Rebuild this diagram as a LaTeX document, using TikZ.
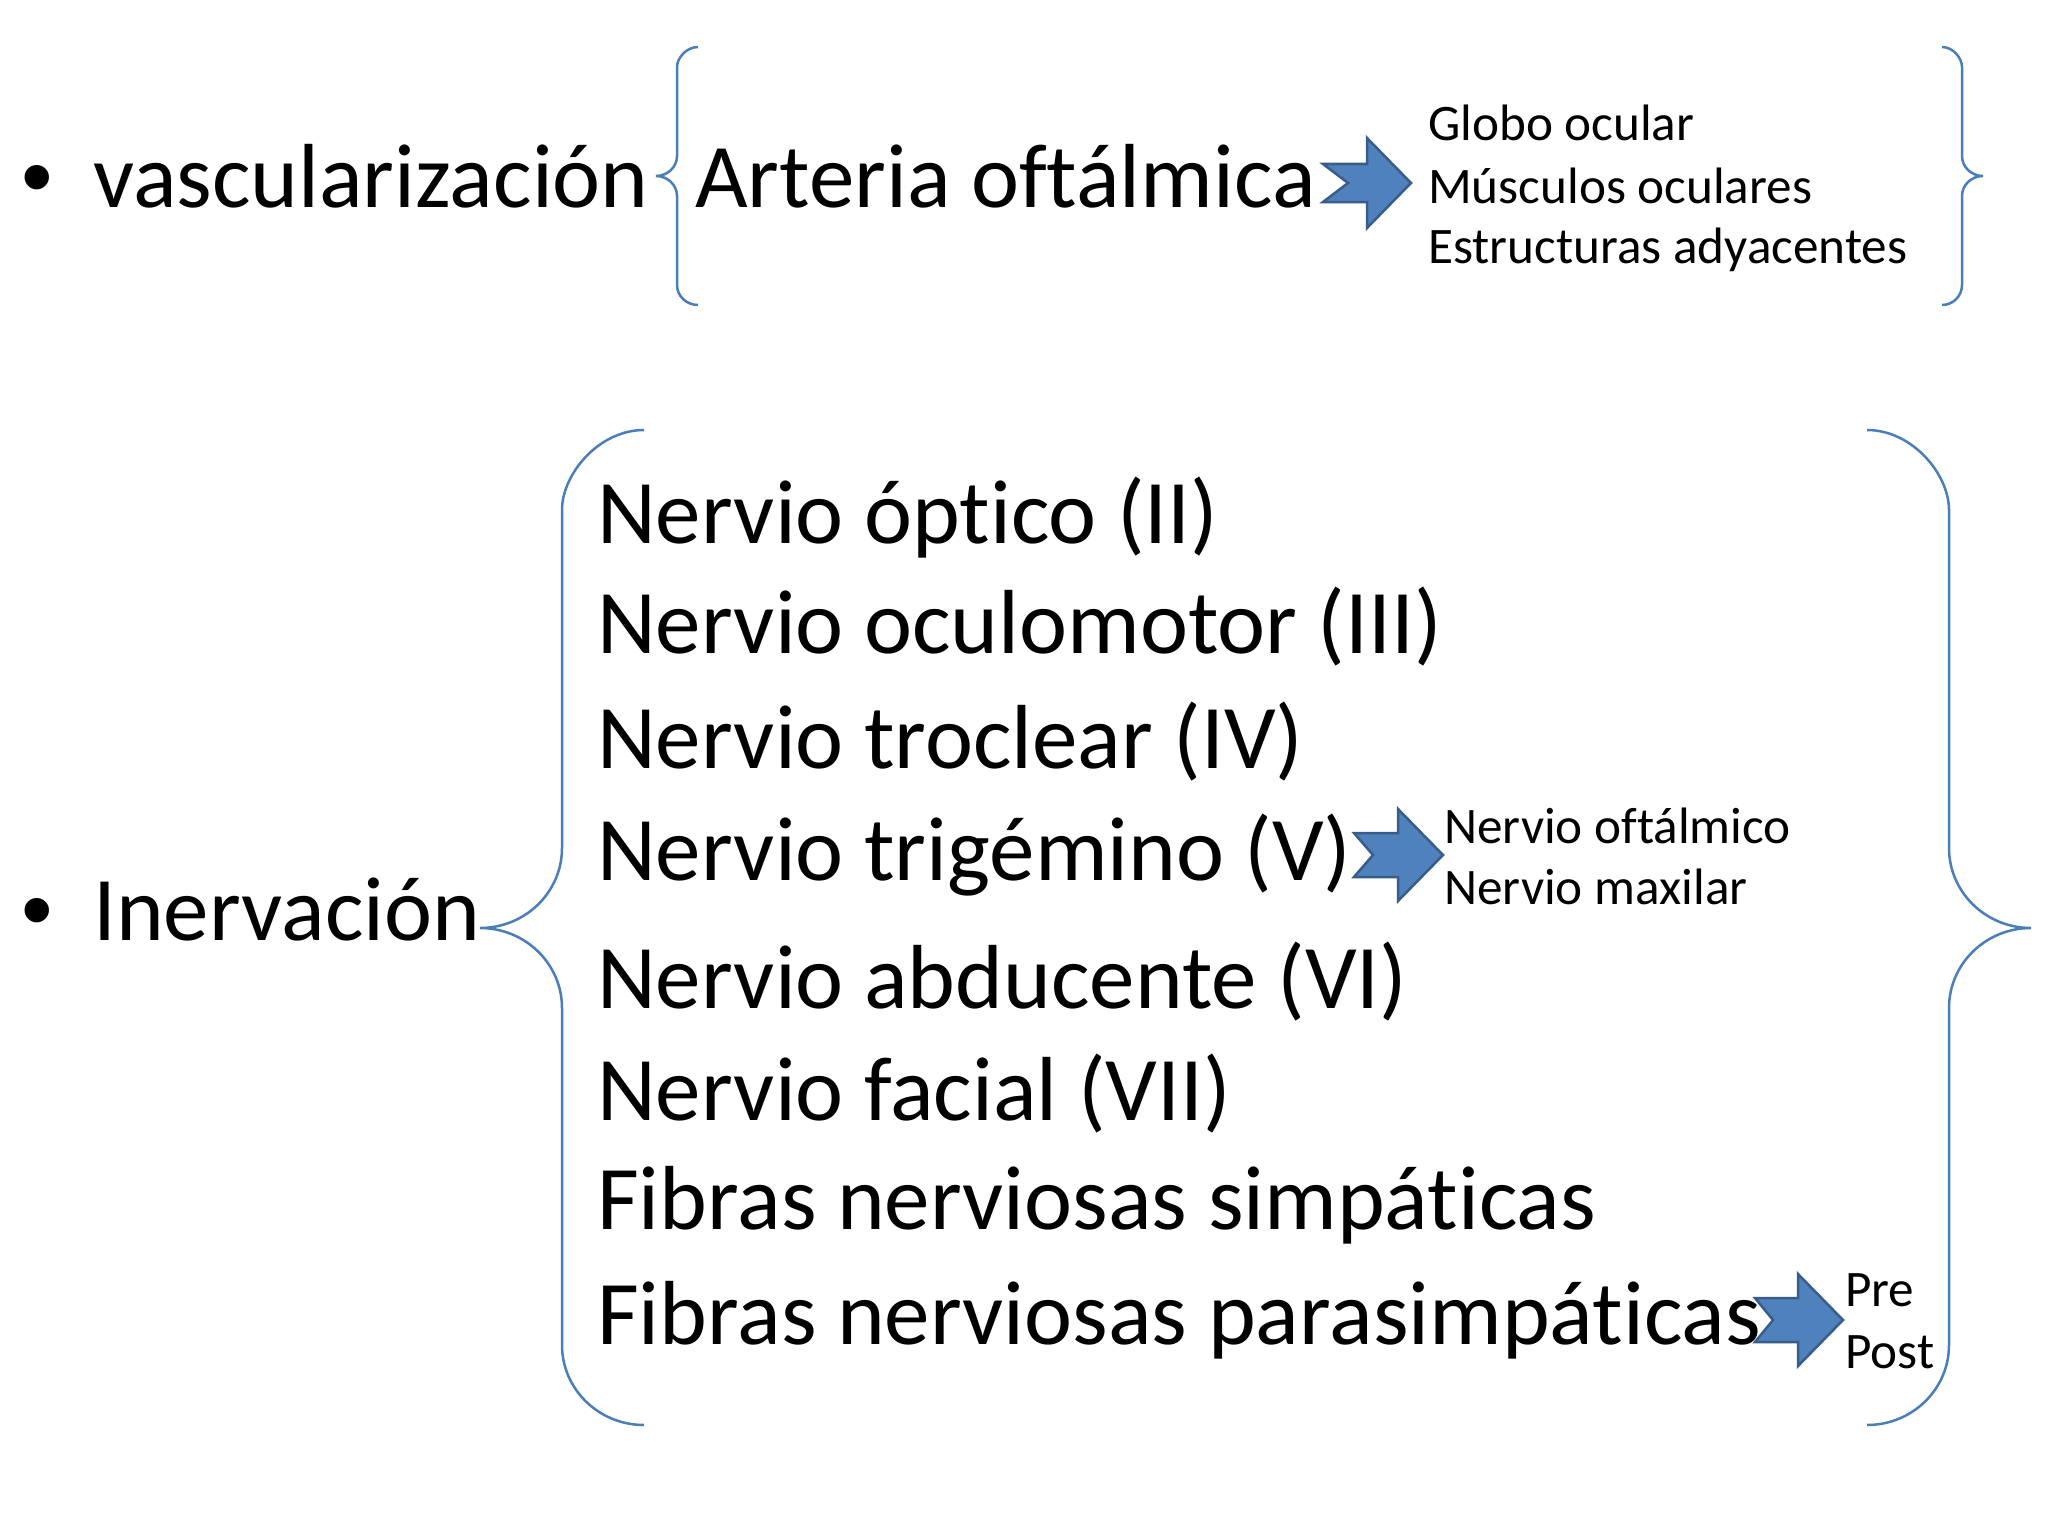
\documentclass[tikz,border=0pt]{standalone}
\usepackage{fontspec}
\setmainfont{Carlito}[Ligatures={NoCommon}]
\newfontfamily\bulletfont{Liberation Sans}
\definecolor{bracecol}{RGB}{74,126,187}
\definecolor{arrowfill}{RGB}{79,129,189}
\definecolor{arrowline}{RGB}{56,93,138}
% #1 end x, #2 vertical x, #3 tip x, #4 top y, #5 tip y, #6 bottom y, #7 curl radius
\newcommand{\curlybrace}[7]{%
 \draw[bracepath] ({#1},{#4}) .. controls ({#1-0.5523*(#1-#2)},{#4}) and ({#2},{#4+0.5523*#7}) .. ({#2},{#4+#7})
  -- ({#2},{#5-#7}) .. controls ({#2},{#5-#7+0.5523*#7}) and ({#3+0.5523*(#2-#3)},{#5}) .. ({#3},{#5})
  .. controls ({#3+0.5523*(#2-#3)},{#5}) and ({#2},{#5+#7-0.5523*#7}) .. ({#2},{#5+#7})
  -- ({#2},{#6-#7}) .. controls ({#2},{#6-#7+0.5523*#7}) and ({#1-0.5523*(#1-#2)},{#6}) .. ({#1},{#6});}
% #1 left x, #2 centre y, #3 notch x, #4 shaft end x, #5 tip x, #6 shaft half height, #7 head half height
\newcommand{\blockarrow}[7]{%
 \draw[notcharrow] ({#1},{#2-#6}) -- ({#4},{#2-#6}) -- ({#4},{#2-#7}) -- ({#5},{#2})
  -- ({#4},{#2+#7}) -- ({#4},{#2+#6}) -- ({#1},{#2+#6}) -- ({#3},{#2}) -- cycle;}
\begin{document}
\begin{tikzpicture}[x=1pt,y=-1pt,
  big/.style={anchor=base west, inner sep=0pt, font=\fontsize{91}{108}\selectfont},
  small/.style={anchor=base west, inner sep=0pt, font=\fontsize{51.2}{60}\selectfont},
  bul/.style={anchor=base, inner sep=0pt, font=\bulletfont\fontsize{90}{108}\selectfont},
  bracepath/.style={draw=bracecol, line width=2.5pt},
  notcharrow/.style={fill=arrowfill, draw=arrowline, line width=2.5pt, line join=miter}]
\fill[white] (0,0) rectangle (2048,1536);
\useasboundingbox (0,0) rectangle (2048,1536);

% top section
\node[bul] (b1) at (37,207) {•};
\node[big] (vasc) at (93,207) {vascularización};
\curlybrace{698}{677}{656}{47}{176}{305}{20}
\node[big] (arteria) at (695,207) {Arteria oftálmica};
\blockarrow{1323}{183}{1348}{1367}{1411}{19}{45}
\node[small] (globo) at (1428,141) {Globo ocular};
\node[small] (musc) at (1428,203) {Músculos oculares};
\node[small] (estr) at (1428,263) {Estructuras adyacentes};
\curlybrace{1942}{1962}{1983}{47}{176}{305}{20}

% bottom section
\node[bul] (b2) at (37,940) {•};
\node[big] (inerv) at (93,940) {Inervación};
\curlybrace{644}{562}{480}{430}{928}{1425}{80}
\node[big] (n2) at (597,543) {Nervio óptico (II)};
\node[big] (n3) at (597,653) {Nervio oculomotor (III)};
\node[big] (n4) at (597,768) {Nervio troclear (IV)};
\node[big] (n5) at (597,880) {Nervio trigémino (V)};
\node[big] (n6) at (597,1008) {Nervio abducente (VI)};
\node[big] (n7) at (597,1120) {Nervio facial (VII)};
\node[big] (simp) at (597,1229) {Fibras nerviosas simpáticas};
\node[big] (para) at (597,1344) {Fibras nerviosas parasimpáticas};
\blockarrow{1354}{855}{1373}{1398}{1443}{22}{46}
\node[small] (oft) at (1444,843) {Nervio oftálmico};
\node[small] (max) at (1444,904) {Nervio maxilar};
\blockarrow{1755}{1320}{1773}{1798}{1843}{22}{46}
\node[small] (pre) at (1845,1306) {Pre};
\node[small] (post) at (1845,1368) {Post};
\curlybrace{1867}{1949}{2031}{430}{928}{1425}{80}
\end{tikzpicture}
\end{document}
